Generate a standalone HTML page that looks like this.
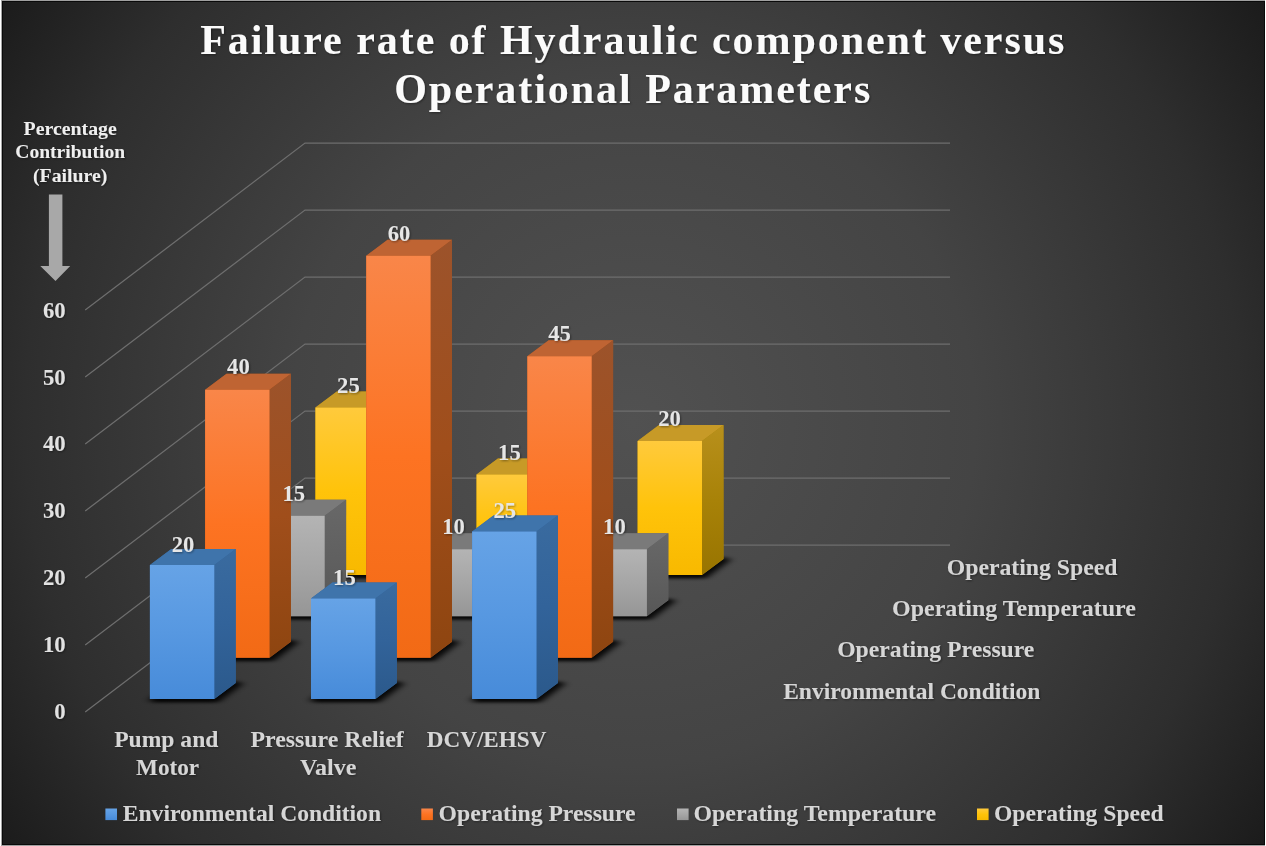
<!DOCTYPE html>
<html lang="en"><head><meta charset="utf-8"><title>Failure rate of Hydraulic component versus Operational Parameters</title>
<style>
html,body{margin:0;padding:0;background:#202020;}
body{width:1266px;height:846px;overflow:hidden;}
svg{display:block;}
svg text{font-family:"Liberation Serif","DejaVu Serif",serif;font-weight:bold;}
.dl{font-size:22.6px;fill:#e6e6e6;text-anchor:middle;}
.ti{font-size:42px;fill:#fbfbfb;}
.yt{font-size:18.4px;fill:#efefef;}
.ax{font-size:22.7px;fill:#e2e2e2;text-anchor:end;}
.lb{font-size:22.7px;fill:#d6d6d6;}
</style></head><body>
<svg width="1266" height="846" viewBox="0 0 1266 846">
<defs>
<radialGradient id="bg" gradientUnits="userSpaceOnUse" cx="633" cy="423" r="761"><stop offset="0" stop-color="#515151"/><stop offset="0.45" stop-color="#444444"/><stop offset="0.8" stop-color="#2e2e2e"/><stop offset="1" stop-color="#1b1b1b"/></radialGradient>
<linearGradient id="blueF" x1="0" y1="0" x2="0" y2="1"><stop offset="0" stop-color="#66a3e6"/><stop offset="0.5" stop-color="#5798e1"/><stop offset="1" stop-color="#478bd9"/></linearGradient>
<linearGradient id="blueS" x1="0" y1="0" x2="0" y2="1"><stop offset="0" stop-color="#3a6b9f"/><stop offset="0.5" stop-color="#32639a"/><stop offset="1" stop-color="#2b598b"/></linearGradient>
<linearGradient id="orangeF" x1="0" y1="0" x2="0" y2="1"><stop offset="0" stop-color="#f98649"/><stop offset="0.5" stop-color="#fd7322"/><stop offset="1" stop-color="#f26a15"/></linearGradient>
<linearGradient id="orangeS" x1="0" y1="0" x2="0" y2="1"><stop offset="0" stop-color="#9c532b"/><stop offset="0.5" stop-color="#a04e1b"/><stop offset="1" stop-color="#8e4510"/></linearGradient>
<linearGradient id="grayF" x1="0" y1="0" x2="0" y2="1"><stop offset="0" stop-color="#b4b4b4"/><stop offset="0.5" stop-color="#a6a6a6"/><stop offset="1" stop-color="#969696"/></linearGradient>
<linearGradient id="grayS" x1="0" y1="0" x2="0" y2="1"><stop offset="0" stop-color="#686868"/><stop offset="0.5" stop-color="#606060"/><stop offset="1" stop-color="#575757"/></linearGradient>
<linearGradient id="yellowF" x1="0" y1="0" x2="0" y2="1"><stop offset="0" stop-color="#ffca3c"/><stop offset="0.5" stop-color="#ffc30a"/><stop offset="1" stop-color="#f8b900"/></linearGradient>
<linearGradient id="yellowS" x1="0" y1="0" x2="0" y2="1"><stop offset="0" stop-color="#b8901c"/><stop offset="0.5" stop-color="#a88208"/><stop offset="1" stop-color="#987400"/></linearGradient>
<filter id="fs" x="0" y="0" width="1266" height="846" filterUnits="userSpaceOnUse"><feGaussianBlur stdDeviation="4.2 1.8"/><feOffset dx="3" dy="1.3"/></filter>
<filter id="ts" x="-5%" y="-20%" width="110%" height="150%"><feGaussianBlur in="SourceAlpha" stdDeviation="1.1"/><feOffset dx="0.8" dy="1.2"/><feComponentTransfer><feFuncA type="linear" slope="0.4"/></feComponentTransfer><feMerge><feMergeNode/><feMergeNode in="SourceGraphic"/></feMerge></filter>
</defs>
<rect width="1266" height="846" fill="url(#bg)"/>
<g fill="none" stroke="#6e6e6e" stroke-width="1.25">
<polyline points="85.2,712.0 305.0,545.1 950.0,545.1"/>
<polyline points="85.2,645.0 305.0,478.1 950.0,478.1"/>
<polyline points="85.2,578.0 305.0,411.1 950.0,411.1"/>
<polyline points="85.2,511.0 305.0,344.1 950.0,344.1"/>
<polyline points="85.2,444.0 305.0,277.1 950.0,277.1"/>
<polyline points="85.2,377.0 305.0,210.1 950.0,210.1"/>
<polyline points="85.2,310.0 305.0,143.1 950.0,143.1"/>
</g>
<g filter="url(#fs)" fill="#000" stroke="#000" stroke-width="5" stroke-linejoin="round" opacity="0.9">
<polygon points="315.4,575.0 379.8,575.0 401.3,558.9 336.8,558.9"/>
<polygon points="476.5,575.0 540.9,575.0 562.4,558.9 497.9,558.9"/>
<polygon points="637.6,575.0 702.0,575.0 723.5,558.9 659.0,558.9"/>
<polygon points="260.2,616.3 324.7,616.3 346.1,600.3 281.6,600.3"/>
<polygon points="421.3,616.3 485.8,616.3 507.2,600.3 442.7,600.3"/>
<polygon points="582.4,616.3 646.9,616.3 668.3,600.3 603.8,600.3"/>
<polygon points="205.1,657.7 269.5,657.7 290.9,641.7 226.5,641.7"/>
<polygon points="366.2,657.7 430.6,657.7 452.0,641.7 387.6,641.7"/>
<polygon points="527.3,657.7 591.7,657.7 613.1,641.7 548.7,641.7"/>
<polygon points="149.9,699.1 214.3,699.1 235.7,683.0 171.3,683.0"/>
<polygon points="311.0,699.1 375.4,699.1 396.8,683.0 332.4,683.0"/>
<polygon points="472.1,699.1 536.5,699.1 557.9,683.0 493.5,683.0"/>
</g>
<polygon points="315.4,575.0 379.8,575.0 401.3,558.9 401.3,391.4 336.8,391.4 315.4,407.5" fill="#a88208"/>
<polygon points="315.4,407.5 379.8,407.5 401.3,391.4 336.8,391.4" fill="#c79a27"/>
<polygon points="379.8,575.0 401.3,558.9 401.3,391.4 379.8,407.5" fill="url(#yellowS)"/>
<polygon points="315.4,575.0 379.8,575.0 379.8,407.5 315.4,407.5" fill="url(#yellowF)"/>
<polygon points="476.5,575.0 540.9,575.0 562.4,558.9 562.4,458.4 497.9,458.4 476.5,474.5" fill="#a88208"/>
<polygon points="476.5,474.5 540.9,474.5 562.4,458.4 497.9,458.4" fill="#c79a27"/>
<polygon points="540.9,575.0 562.4,558.9 562.4,458.4 540.9,474.5" fill="url(#yellowS)"/>
<polygon points="476.5,575.0 540.9,575.0 540.9,474.5 476.5,474.5" fill="url(#yellowF)"/>
<polygon points="637.6,575.0 702.0,575.0 723.5,558.9 723.5,424.9 659.0,424.9 637.6,441.0" fill="#a88208"/>
<polygon points="637.6,441.0 702.0,441.0 723.5,424.9 659.0,424.9" fill="#c79a27"/>
<polygon points="702.0,575.0 723.5,558.9 723.5,424.9 702.0,441.0" fill="url(#yellowS)"/>
<polygon points="637.6,575.0 702.0,575.0 702.0,441.0 637.6,441.0" fill="url(#yellowF)"/>
<polygon points="260.2,616.3 324.7,616.3 346.1,600.3 346.1,499.8 281.6,499.8 260.2,515.8" fill="#606060"/>
<polygon points="260.2,515.8 324.7,515.8 346.1,499.8 281.6,499.8" fill="#7a7a7a"/>
<polygon points="324.7,616.3 346.1,600.3 346.1,499.8 324.7,515.8" fill="url(#grayS)"/>
<polygon points="260.2,616.3 324.7,616.3 324.7,515.8 260.2,515.8" fill="url(#grayF)"/>
<polygon points="421.3,616.3 485.8,616.3 507.2,600.3 507.2,533.3 442.7,533.3 421.3,549.3" fill="#606060"/>
<polygon points="421.3,549.3 485.8,549.3 507.2,533.3 442.7,533.3" fill="#7a7a7a"/>
<polygon points="485.8,616.3 507.2,600.3 507.2,533.3 485.8,549.3" fill="url(#grayS)"/>
<polygon points="421.3,616.3 485.8,616.3 485.8,549.3 421.3,549.3" fill="url(#grayF)"/>
<polygon points="582.4,616.3 646.9,616.3 668.3,600.3 668.3,533.3 603.8,533.3 582.4,549.3" fill="#606060"/>
<polygon points="582.4,549.3 646.9,549.3 668.3,533.3 603.8,533.3" fill="#7a7a7a"/>
<polygon points="646.9,616.3 668.3,600.3 668.3,533.3 646.9,549.3" fill="url(#grayS)"/>
<polygon points="582.4,616.3 646.9,616.3 646.9,549.3 582.4,549.3" fill="url(#grayF)"/>
<polygon points="205.1,657.7 269.5,657.7 290.9,641.7 290.9,373.7 226.5,373.7 205.1,389.7" fill="#a04e1b"/>
<polygon points="205.1,389.7 269.5,389.7 290.9,373.7 226.5,373.7" fill="#bf6433"/>
<polygon points="269.5,657.7 290.9,641.7 290.9,373.7 269.5,389.7" fill="url(#orangeS)"/>
<polygon points="205.1,657.7 269.5,657.7 269.5,389.7 205.1,389.7" fill="url(#orangeF)"/>
<polygon points="366.2,657.7 430.6,657.7 452.0,641.7 452.0,239.7 387.6,239.7 366.2,255.7" fill="#a04e1b"/>
<polygon points="366.2,255.7 430.6,255.7 452.0,239.7 387.6,239.7" fill="#bf6433"/>
<polygon points="430.6,657.7 452.0,641.7 452.0,239.7 430.6,255.7" fill="url(#orangeS)"/>
<polygon points="366.2,657.7 430.6,657.7 430.6,255.7 366.2,255.7" fill="url(#orangeF)"/>
<polygon points="527.3,657.7 591.7,657.7 613.1,641.7 613.1,340.2 548.7,340.2 527.3,356.2" fill="#a04e1b"/>
<polygon points="527.3,356.2 591.7,356.2 613.1,340.2 548.7,340.2" fill="#bf6433"/>
<polygon points="591.7,657.7 613.1,641.7 613.1,340.2 591.7,356.2" fill="url(#orangeS)"/>
<polygon points="527.3,657.7 591.7,657.7 591.7,356.2 527.3,356.2" fill="url(#orangeF)"/>
<polygon points="149.9,699.1 214.3,699.1 235.7,683.0 235.7,549.0 171.3,549.0 149.9,565.1" fill="#32639a"/>
<polygon points="149.9,565.1 214.3,565.1 235.7,549.0 171.3,549.0" fill="#3f74ab"/>
<polygon points="214.3,699.1 235.7,683.0 235.7,549.0 214.3,565.1" fill="url(#blueS)"/>
<polygon points="149.9,699.1 214.3,699.1 214.3,565.1 149.9,565.1" fill="url(#blueF)"/>
<polygon points="311.0,699.1 375.4,699.1 396.8,683.0 396.8,582.5 332.4,582.5 311.0,598.6" fill="#32639a"/>
<polygon points="311.0,598.6 375.4,598.6 396.8,582.5 332.4,582.5" fill="#3f74ab"/>
<polygon points="375.4,699.1 396.8,683.0 396.8,582.5 375.4,598.6" fill="url(#blueS)"/>
<polygon points="311.0,699.1 375.4,699.1 375.4,598.6 311.0,598.6" fill="url(#blueF)"/>
<polygon points="472.1,699.1 536.5,699.1 557.9,683.0 557.9,515.5 493.5,515.5 472.1,531.6" fill="#32639a"/>
<polygon points="472.1,531.6 536.5,531.6 557.9,515.5 493.5,515.5" fill="#3f74ab"/>
<polygon points="536.5,699.1 557.9,683.0 557.9,515.5 536.5,531.6" fill="url(#blueS)"/>
<polygon points="472.1,699.1 536.5,699.1 536.5,531.6 472.1,531.6" fill="url(#blueF)"/>
<g class="dl" filter="url(#ts)">
<text x="348.4" y="392.9">25</text>
<text x="509.4" y="459.6">15</text>
<text x="669.6" y="425.5">20</text>
<text x="293.7" y="501.4">15</text>
<text x="453.6" y="534.3">10</text>
<text x="614.4" y="534.0">10</text>
<text x="238.4" y="373.8">40</text>
<text x="399.0" y="241.3">60</text>
<text x="559.6" y="341.3">45</text>
<text x="183.0" y="552.1">20</text>
<text x="344.4" y="585.3">15</text>
<text x="504.7" y="517.9">25</text>
</g>
<g class="ti" filter="url(#ts)">
<text x="200.2" y="54.4" textLength="864.2" lengthAdjust="spacing">Failure rate of Hydraulic component versus</text>
<text x="394.2" y="102.8" textLength="476.1" lengthAdjust="spacing">Operational Parameters</text>
</g>
<g class="yt" filter="url(#ts)">
<text x="23.6" y="134.7" textLength="93.2" lengthAdjust="spacingAndGlyphs">Percentage</text>
<text x="15.3" y="158.1" textLength="109.8" lengthAdjust="spacingAndGlyphs">Contribution</text>
<text x="33.0" y="181.5" textLength="74.4" lengthAdjust="spacingAndGlyphs">(Failure)</text>
</g>
<polygon points="48.9,194.5 62.4,194.5 62.4,266 70.2,266 55.5,281 40.3,266 48.9,266" fill="#a8a8a8"/>
<g class="ax" filter="url(#ts)">
<text x="65.6" y="719.0">0</text>
<text x="65.6" y="652.1">10</text>
<text x="65.6" y="585.2">20</text>
<text x="65.6" y="518.3">30</text>
<text x="65.6" y="451.4">40</text>
<text x="65.6" y="384.5">50</text>
<text x="65.6" y="317.6">60</text>
</g>
<g class="lb" filter="url(#ts)">
<text x="114.2" y="747.2" textLength="104.2" lengthAdjust="spacingAndGlyphs">Pump and</text>
<text x="136.0" y="774.6" textLength="63.1" lengthAdjust="spacingAndGlyphs">Motor</text>
<text x="250.5" y="747.2" textLength="153.2" lengthAdjust="spacingAndGlyphs">Pressure Relief</text>
<text x="299.9" y="774.6" textLength="56.5" lengthAdjust="spacingAndGlyphs">Valve</text>
<text x="426.8" y="747.2" textLength="119.6" lengthAdjust="spacingAndGlyphs">DCV/EHSV</text>
<text x="783.2" y="698.7" textLength="257.2" lengthAdjust="spacingAndGlyphs">Environmental Condition</text>
<text x="837.2" y="657.4" textLength="197.2" lengthAdjust="spacingAndGlyphs">Operating Pressure</text>
<text x="892.1" y="616.1" textLength="243.7" lengthAdjust="spacingAndGlyphs">Operating Temperature</text>
<text x="946.8" y="574.9" textLength="170.7" lengthAdjust="spacingAndGlyphs">Operating Speed</text>
<text x="122.8" y="821.3" textLength="258.2" lengthAdjust="spacingAndGlyphs">Environmental Condition</text>
<text x="438.6" y="821.3" textLength="197.0" lengthAdjust="spacingAndGlyphs">Operating Pressure</text>
<text x="693.5" y="821.3" textLength="242.6" lengthAdjust="spacingAndGlyphs">Operating Temperature</text>
<text x="994.0" y="821.3" textLength="169.5" lengthAdjust="spacingAndGlyphs">Operating Speed</text>
</g>
<rect x="105.4" y="808.5" width="11.6" height="11.6" fill="url(#blueF)"/>
<rect x="421.3" y="808.5" width="11.6" height="11.6" fill="url(#orangeF)"/>
<rect x="677.0" y="808.5" width="11.6" height="11.6" fill="url(#grayF)"/>
<rect x="977.0" y="808.5" width="11.6" height="11.6" fill="url(#yellowF)"/>
<rect x="2.5" y="1.5" width="1262" height="843" fill="none" stroke="#0a0a0a" stroke-width="1"/>
<rect x="0" y="0" width="1.6" height="846" fill="#fff"/>
<rect x="1265" y="0" width="1" height="846" fill="#fff"/>
<rect x="2" y="0" width="1263" height="1" fill="#a0a0a0"/>
<rect x="2" y="845" width="1263" height="1" fill="#a0a0a0"/>
</svg>
</body></html>
